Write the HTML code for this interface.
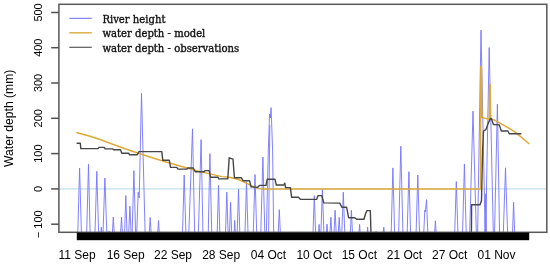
<!DOCTYPE html>
<html><head><meta charset="utf-8"><style>
html,body{margin:0;padding:0;background:#fff;width:550px;height:266px;overflow:hidden}
svg{display:block}
.ax{font-family:"Liberation Sans",Arial,sans-serif;font-size:12px;fill:#000}
.lg{font-family:"DejaVu Serif Condensed","DejaVu Serif","Liberation Serif",serif;font-size:11.2px;fill:#111;stroke:#111;stroke-width:0.35px}
</style></head><body>
<svg width="550" height="266" viewBox="0 0 550 266">
<defs><clipPath id="pc"><rect x="58.9" y="4.3" width="487.9" height="228.0"/></clipPath></defs>
<line x1="58.9" y1="188.9" x2="546.8" y2="188.9" stroke="#c3e0ee" stroke-width="1.3"/>
<g clip-path="url(#pc)" fill="none" stroke-linejoin="round">
<g stroke="#7474ff" stroke-width="0.9">
<polyline points="77.7,236.0 79.6,168.0 81.5,236.0"/>
<polyline points="86.6,236.0 88.5,164.2 90.2,236.0"/>
<polyline points="94.9,236.0 96.8,171.3 98.7,236.0"/>
<polyline points="100.6,236.0 101.3,227.1 102.0,236.0"/>
<polyline points="102.9,236.0 104.9,178.0 106.9,236.0"/>
<polyline points="108.6,236.0 109.2,231.0 109.8,236.0"/>
<polyline points="112.2,236.0 113.3,217.0 114.4,236.0"/>
<polyline points="120.4,236.0 121.5,217.0 122.6,236.0"/>
<polyline points="124.5,236.0 125.8,195.6 127.1,236.0"/>
<polyline points="128.6,236.0 129.9,206.2 131.2,236.0"/>
<polyline points="132.1,236.0 133.9,170.6 135.7,236.0"/>
<polyline points="149.1,236.0 150.2,217.5 151.3,236.0"/>
<polyline points="157.5,236.0 158.5,220.6 159.5,236.0"/>
<polyline points="182.4,236.0 184.2,175.0 186.0,236.0"/>
<polyline points="188.7,236.0 192.5,128.8 194.7,236.0"/>
<polyline points="198.3,236.0 201.1,139.6 203.0,236.0"/>
<polyline points="208.2,236.0 209.9,153.6 211.8,236.0"/>
<polyline points="217.1,236.0 218.5,185.4 219.9,236.0"/>
<polyline points="225.4,236.0 226.8,192.2 228.2,236.0"/>
<polyline points="229.4,236.0 230.6,202.3 231.8,236.0"/>
<polyline points="233.9,236.0 234.7,220.4 235.5,236.0"/>
<polyline points="237.1,236.0 238.5,189.2 239.9,236.0"/>
<polyline points="244.9,236.0 246.5,181.6 248.1,236.0"/>
<polyline points="253.2,236.0 255.0,174.5 256.8,236.0"/>
<polyline points="260.7,236.0 262.9,157.0 264.9,236.0"/>
<polyline points="278.1,236.0 279.3,209.7 280.5,236.0"/>
<polyline points="312.9,236.0 314.3,195.7 315.7,236.0"/>
<polyline points="318.3,236.0 319.1,224.4 319.9,236.0"/>
<polyline points="320.8,236.0 322.4,189.1 324.0,236.0"/>
<polyline points="326.2,236.0 327.0,224.2 327.8,236.0"/>
<polyline points="329.8,236.0 330.9,217.3 332.0,236.0"/>
<polyline points="333.9,236.0 335.1,210.2 336.3,236.0"/>
<polyline points="338.1,236.0 339.2,217.3 340.3,236.0"/>
<polyline points="341.7,236.0 343.3,192.2 344.9,236.0"/>
<polyline points="350.2,236.0 351.4,210.3 352.6,236.0"/>
<polyline points="358.8,236.0 359.6,224.4 360.4,236.0"/>
<polyline points="366.9,236.0 367.6,227.1 368.3,236.0"/>
<polyline points="375.5,236.0 376.1,231.4 376.7,236.0"/>
<polyline points="383.1,236.0 383.8,227.1 384.5,236.0"/>
<polyline points="391.1,236.0 392.9,167.9 394.7,236.0"/>
<polyline points="398.6,236.0 400.8,146.2 403.0,236.0"/>
<polyline points="407.1,236.0 408.9,171.7 410.7,236.0"/>
<polyline points="416.0,236.0 417.8,175.0 419.6,236.0"/>
<polyline points="434.4,236.0 435.4,220.8 436.4,236.0"/>
<polyline points="454.6,236.0 456.3,181.6 458.0,236.0"/>
<polyline points="462.5,236.0 464.4,164.1 466.3,236.0"/>
<polyline points="469.6,236.0 473.0,111.1 476.4,236.0"/>
<polyline points="477.6,236.0 481.0,30.1 485.2,236.0"/>
<polyline points="485.6,236.0 489.2,47.5 493.4,236.0"/>
<polyline points="494.5,236.0 497.4,104.2 499.6,236.0"/>
<polyline points="503.2,236.0 505.5,167.8 507.7,236.0"/>
<polyline points="512.4,236.0 513.6,202.3 514.8,236.0"/>
<polyline points="136.6,236.0 138.2,192.2 139.2,198.0 141.5,93.3 145.2,236.0"/>
<polyline points="266.3,236.0 268.3,150.0 269.6,114.0 270.3,118.0 271.1,107.7 272.6,150.0 273.7,236.0"/>
<polyline points="268.6,236.0 269.8,125.0"/>
<polyline points="423.6,236.0 424.8,210.2 425.3,212.0 426.6,199.6 427.9,236.0"/>
<polyline points="484.8,236.0 485.8,193.8 486.5,236.0"/>
</g>
<polyline points="76.3,132.5 90.0,136.2 100.0,139.5 114.0,144.7 130.0,150.5 150.0,157.0 166.0,162.0 186.0,167.8 200.0,171.6 222.0,176.6 229.0,177.3 236.0,178.8 241.5,180.8 250.4,185.2 258.6,188.6 261.0,188.9 480.5,188.9 480.7,66.8 481.4,66.8 481.9,117.4 489.3,119.4 489.6,84.8 490.2,84.8 490.6,118.6 494.0,119.9 500.0,123.2 507.0,127.1 514.0,131.4 521.0,136.9 529.3,144.0" stroke="#dfa936" stroke-width="1.45"/>
<polyline points="76.6,143.3 80.3,143.3 80.8,148.6 98.1,148.6 99.0,147.4 104.1,147.4 105.2,148.9 112.8,148.9 113.8,149.8 120.5,149.8 121.8,153.3 128.8,153.3 129.6,154.8 137.1,154.8 139.0,151.6 161.8,151.6 162.8,160.3 169.3,160.3 170.5,167.4 176.8,167.4 178.0,169.1 187.0,169.1 187.6,168.0 193.3,168.0 195.2,171.8 204.2,171.8 205.0,170.6 209.1,170.6 210.6,177.2 218.1,177.2 218.8,178.9 227.8,178.9 229.2,157.8 233.0,159.2 234.4,177.8 241.3,177.8 243.3,180.8 249.6,180.8 251.0,186.8 257.5,187.4 259.5,185.4 266.0,185.3 267.2,179.3 275.0,179.3 276.3,185.0 283.8,185.0 284.8,183.2 285.6,187.6 290.4,187.6 291.6,197.3 298.5,197.3 300.6,199.4 316.6,199.4 318.1,195.6 321.8,195.6 323.8,202.9 339.8,203.1 341.8,207.2 346.6,207.2 348.6,217.7 354.8,217.7 356.6,219.2 364.0,219.2 365.5,213.8 367.0,210.6 370.3,210.6 371.2,240.0" stroke="#464646" stroke-width="1.4"/>
<polyline points="471.4,240.0 471.6,204.7 480.0,204.7 481.5,200.5 482.6,150.0 483.5,131.0 485.9,129.6 488.8,121.8 490.6,118.4 491.5,118.8 493.4,124.5 499.3,124.9 501.3,131.0 507.9,131.0 509.3,133.7 521.4,133.7" stroke="#464646" stroke-width="1.4"/>
</g>
<rect x="58.9" y="4.3" width="487.9" height="228.0" fill="none" stroke="#585858" stroke-width="1.5"/>
<rect x="76.8" y="232.6" width="452.4" height="7.6" fill="#000"/>
<line x1="51.2" y1="12.5" x2="58.9" y2="12.5" stroke="#505050" stroke-width="1.5"/>
<text transform="translate(42.0,12.5) scale(1,0.95) rotate(-90)" text-anchor="middle" class="ax" style="font-size:11.5px">500</text>
<line x1="51.2" y1="47.7" x2="58.9" y2="47.7" stroke="#505050" stroke-width="1.5"/>
<text transform="translate(42.0,47.7) scale(1,0.95) rotate(-90)" text-anchor="middle" class="ax" style="font-size:11.5px">400</text>
<line x1="51.2" y1="83.0" x2="58.9" y2="83.0" stroke="#505050" stroke-width="1.5"/>
<text transform="translate(42.0,83.0) scale(1,0.95) rotate(-90)" text-anchor="middle" class="ax" style="font-size:11.5px">300</text>
<line x1="51.2" y1="118.3" x2="58.9" y2="118.3" stroke="#505050" stroke-width="1.5"/>
<text transform="translate(42.0,118.3) scale(1,0.95) rotate(-90)" text-anchor="middle" class="ax" style="font-size:11.5px">200</text>
<line x1="51.2" y1="153.6" x2="58.9" y2="153.6" stroke="#505050" stroke-width="1.5"/>
<text transform="translate(42.0,153.6) scale(1,0.95) rotate(-90)" text-anchor="middle" class="ax" style="font-size:11.5px">100</text>
<line x1="51.2" y1="188.9" x2="58.9" y2="188.9" stroke="#505050" stroke-width="1.5"/>
<text transform="translate(42.0,188.9) scale(1,0.95) rotate(-90)" text-anchor="middle" class="ax" style="font-size:11.5px">0</text>
<line x1="51.2" y1="224.2" x2="58.9" y2="224.2" stroke="#505050" stroke-width="1.5"/>
<text transform="translate(42.0,224.2) scale(1,0.95) rotate(-90)" text-anchor="middle" class="ax" style="font-size:11.5px">−<tspan dx="3">100</tspan></text>
<text transform="translate(77.0,258.6)" text-anchor="middle" class="ax">11 Sep</text>
<text transform="translate(125.7,258.6)" text-anchor="middle" class="ax">16 Sep</text>
<text transform="translate(173.0,258.6)" text-anchor="middle" class="ax">22 Sep</text>
<text transform="translate(221.2,258.6)" text-anchor="middle" class="ax">28 Sep</text>
<text transform="translate(268.4,258.6)" text-anchor="middle" class="ax">04 Oct</text>
<text transform="translate(314.1,258.6)" text-anchor="middle" class="ax">10 Oct</text>
<text transform="translate(359.3,258.6)" text-anchor="middle" class="ax">15 Oct</text>
<text transform="translate(404.4,258.6)" text-anchor="middle" class="ax">21 Oct</text>
<text transform="translate(449.7,258.6)" text-anchor="middle" class="ax">27 Oct</text>
<text transform="translate(496.5,258.6)" text-anchor="middle" class="ax">01 Nov</text>
<text transform="translate(12.6,118.3) scale(1,0.978) rotate(-90)" text-anchor="middle" class="ax" style="font-size:12.4px">Water depth (mm)</text>
<line x1="69.3" y1="18.3" x2="91.8" y2="18.3" stroke="#6c6cff" stroke-width="1.0"/>
<text transform="translate(102.4,22.7) scale(1,0.97)" class="lg">River height</text>
<line x1="69.3" y1="32.8" x2="91.8" y2="32.8" stroke="#e0b04a" stroke-width="1.5"/>
<text transform="translate(102.4,37.3) scale(1,0.97)" class="lg">water depth - model</text>
<line x1="69.3" y1="47.3" x2="91.8" y2="47.3" stroke="#5a5a5a" stroke-width="1.2"/>
<text transform="translate(102.4,51.6) scale(1,0.97)" class="lg">water depth - observations</text>
</svg>
</body></html>
